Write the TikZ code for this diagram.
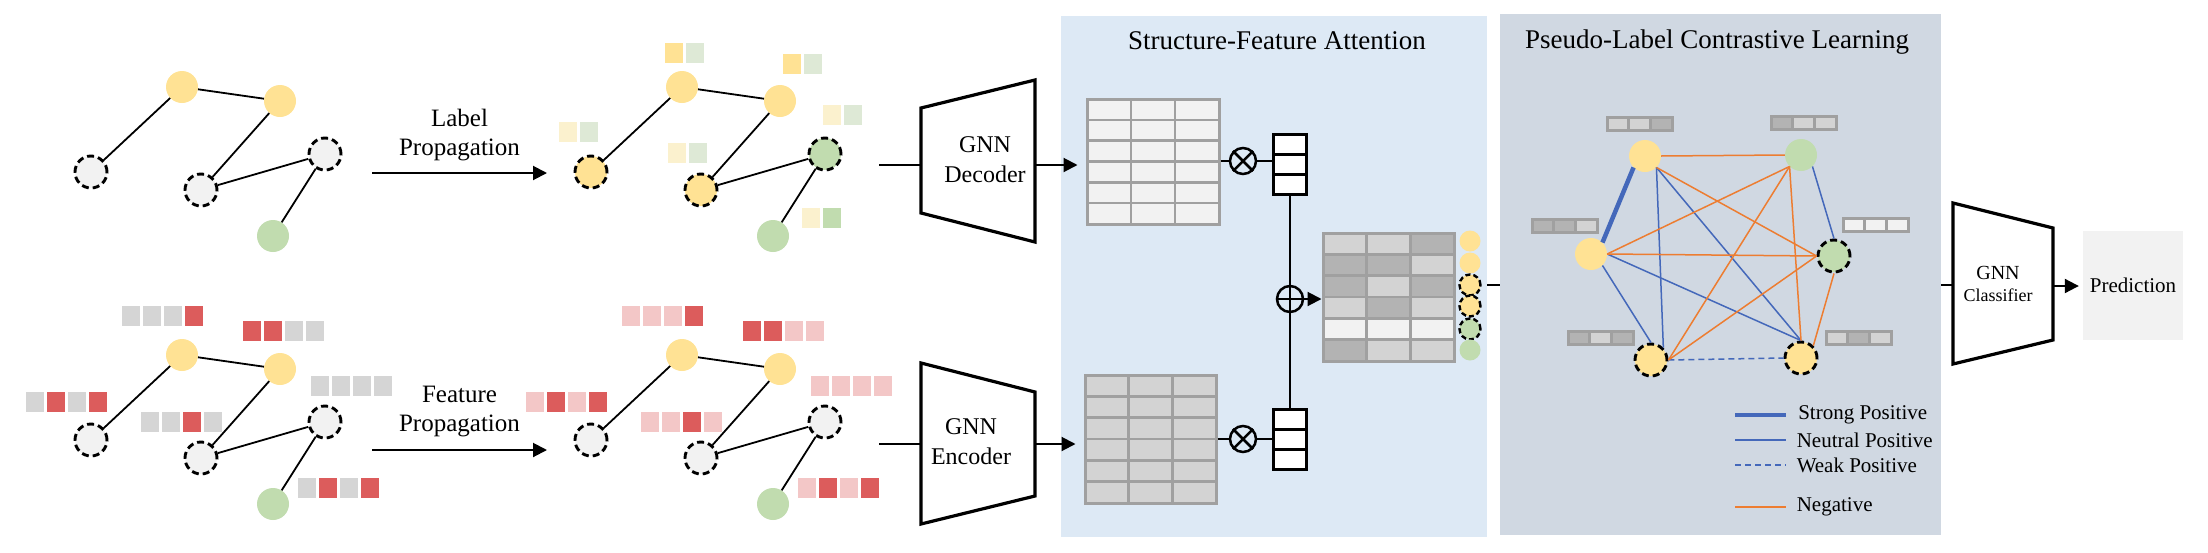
\documentclass[tikz,border=0pt]{standalone}
\usepackage{fontspec}
\setmainfont{Liberation Serif}
\usepackage{xcolor}
\usetikzlibrary{arrows.meta,calc}
\definecolor{nodeyellow}{RGB}{255,226,148}
\definecolor{nodegreen}{RGB}{193,220,175}
\definecolor{nodegray}{RGB}{242,242,242}
\definecolor{paleyellow}{RGB}{251,241,206}
\definecolor{palegreen}{RGB}{222,233,214}
\definecolor{featgray}{RGB}{213,213,213}
\definecolor{featred}{RGB}{220,92,92}
\definecolor{featpink}{RGB}{243,199,199}
\definecolor{attnblue}{RGB}{221,233,245}
\definecolor{contrgray}{RGB}{208,216,226}
\definecolor{gridgray}{RGB}{160,160,160}
\definecolor{cellwhite}{RGB}{242,242,242}
\definecolor{celllight}{RGB}{211,211,211}
\definecolor{celldark}{RGB}{179,179,179}
\definecolor{posblue}{RGB}{68,104,186}
\definecolor{negorange}{RGB}{237,125,49}
\definecolor{predgray}{RGB}{242,242,242}
\tikzset{
  gnode/.style={circle, minimum size=32pt, inner sep=0pt},
  ynode/.style={gnode, fill=nodeyellow},
  gnnode/.style={gnode, fill=nodegreen},
  unode/.style={gnode, fill=nodegray, draw=black, line width=2.9pt, dash pattern=on 7pt off 4pt},
  colnode/.style={circle, minimum size=21pt, inner sep=0pt},
  coldash/.style={colnode, draw=black, line width=2.4pt, dash pattern=on 5pt off 3pt},
  edge/.style={line width=1.8pt},
  flow/.style={-{Triangle[length=14pt,width=14pt]}, line width=2pt},
  fsq/.style={rectangle, minimum width=18pt, minimum height=20pt, inner sep=0pt},
  csq/.style={rectangle, minimum width=21.7pt, minimum height=13pt, inner sep=0pt, draw=gridgray, line width=3pt},
  trap/.style={line width=3.2pt, line join=miter},
  tbl/.style={rectangle, draw=gridgray, line width=3pt, inner sep=0pt},
  gridln/.style={draw=gridgray, line width=2.6pt},
  vecbox/.style={rectangle, draw=black, fill=white, line width=3pt, minimum width=33pt, minimum height=60pt, inner sep=0pt},
  vecln/.style={line width=3pt},
  opnode/.style={circle, draw=black, fill=attnblue, line width=2.5pt, minimum size=26pt, inner sep=0pt},
  opln/.style={line width=2.5pt},
  neutral/.style={posblue, line width=1.5pt},
  strong/.style={posblue, line width=4.5pt},
  weak/.style={posblue, line width=1.5pt, dash pattern=on 6pt off 4pt},
  negative/.style={negorange, line width=1.5pt},
  proptxt/.style={font=\fontsize{25}{29}\selectfont, align=center, inner sep=0pt},
  gnntxt/.style={font=\fontsize{24}{30}\selectfont, align=center, inner sep=0pt},
  titletxt/.style={font=\fontsize{27}{32}\selectfont, inner sep=0pt, anchor=base},
  legtxt/.style={font=\fontsize{21}{25}\selectfont, text=black, inner sep=0pt, anchor=west},
  clstxt/.style={font=\fontsize{20}{22}\selectfont, align=center, inner sep=0pt},
  predbox/.style={fill=predgray, minimum width=100pt, minimum height=109pt, inner sep=0pt, font=\fontsize{21}{25}\selectfont}
}
\pgfdeclarelayer{bg}
\pgfdeclarelayer{panels}
\pgfsetlayers{bg,panels,main}
% row of small squares: [style]{name}{x of first}{y}{step}{colours}
\newcommand{\featbar}[6][fsq]{%
  \foreach \c [count=\i] in {#6}
    \node[#1, fill=\c] (#2-\i) at ({#3+(\i-1)*#5},#4) {};%
}
% inner lines of a 3x6 table: {x0}{y0}{w}{h}
\newcommand{\cellgrid}[4]{%
  \foreach \k in {1,2} \draw[gridln] ({#1+\k*#3/3},#2) -- ({#1+\k*#3/3},{#2+#4});
  \foreach \r in {1,...,5} \draw[gridln] (#1,{#2+\r*#4/6}) -- ({#1+#3},{#2+\r*#4/6});%
}
\begin{document}
\begin{tikzpicture}[x=1pt,y=-1pt]
\useasboundingbox (0,0) rectangle (2208,552);

% panels
\begin{pgfonlayer}{panels}
\fill[attnblue] (1061,16) rectangle (1487,537);
\fill[contrgray] (1500,14) rectangle (1941,535);
\end{pgfonlayer}

% ---- input graph, labels
\node[ynode] (ltA) at (182,87) {};
\node[ynode] (ltB) at (280,101) {};
\node[unode] (ltC) at (91,172) {};
\node[unode] (ltD) at (201,190) {};
\node[unode] (ltE) at (325,154) {};
\node[gnnode] (ltF) at (273,236) {};
\draw[edge] (ltA) -- (ltB) (ltA) -- (ltC) (ltB) -- (ltD) (ltD) -- (ltE) (ltE) -- (ltF);

\coordinate (lp1) at (372,173);
\coordinate (lp2) at (547,173);
\draw[flow] (lp1) -- node[proptxt, above=11pt] (lptext) {Label\\Propagation} (lp2);

% ---- propagated labels
\node[ynode] (rtA) at (682,87) {};
\node[ynode] (rtB) at (780,101) {};
\node[unode, fill=nodeyellow] (rtC) at (591,172) {};
\node[unode, fill=nodeyellow] (rtD) at (701,190) {};
\node[unode, fill=nodegreen] (rtE) at (825,154) {};
\node[gnnode] (rtF) at (773,236) {};
\draw[edge] (rtA) -- (rtB) (rtA) -- (rtC) (rtB) -- (rtD) (rtD) -- (rtE) (rtE) -- (rtF);
\featbar{lbA}{674}{53}{21}{nodeyellow,palegreen}
\featbar{lbB}{792}{64}{21}{nodeyellow,palegreen}
\featbar{lbC}{568}{132}{21}{paleyellow,palegreen}
\featbar{lbD}{677}{153}{21}{paleyellow,palegreen}
\featbar{lbE}{832}{115}{21}{paleyellow,palegreen}
\featbar{lbF}{811}{218}{21}{paleyellow,nodegreen}

% ---- input graph, features
\node[ynode] (lbA) at (182,355) {};
\node[ynode] (lbB) at (280,369) {};
\node[unode] (lbC) at (91,440) {};
\node[unode] (lbD) at (201,458) {};
\node[unode] (lbE) at (325,422) {};
\node[gnnode] (lbF) at (273,504) {};
\draw[edge] (lbA) -- (lbB) (lbA) -- (lbC) (lbB) -- (lbD) (lbD) -- (lbE) (lbE) -- (lbF);
\featbar{fbA}{131}{316}{21}{featgray,featgray,featgray,featred}
\featbar{fbB}{252}{331}{21}{featred,featred,featgray,featgray}
\featbar{fbC}{35}{402}{21}{featgray,featred,featgray,featred}
\featbar{fbD}{150}{422}{21}{featgray,featgray,featred,featgray}
\featbar{fbE}{320}{386}{21}{featgray,featgray,featgray,featgray}
\featbar{fbF}{307}{488}{21}{featgray,featred,featgray,featred}

\coordinate (fp1) at (372,450);
\coordinate (fp2) at (547,450);
\draw[flow] (fp1) -- node[proptxt, above=12pt] (fptext) {Feature\\Propagation} (fp2);

% ---- propagated features
\node[ynode] (rbA) at (682,355) {};
\node[ynode] (rbB) at (780,369) {};
\node[unode] (rbC) at (591,440) {};
\node[unode] (rbD) at (701,458) {};
\node[unode] (rbE) at (825,422) {};
\node[gnnode] (rbF) at (773,504) {};
\draw[edge] (rbA) -- (rbB) (rbA) -- (rbC) (rbB) -- (rbD) (rbD) -- (rbE) (rbE) -- (rbF);
\featbar{pfA}{631}{316}{21}{featpink,featpink,featpink,featred}
\featbar{pfB}{752}{331}{21}{featred,featred,featpink,featpink}
\featbar{pfC}{535}{402}{21}{featpink,featred,featpink,featred}
\featbar{pfD}{650}{422}{21}{featpink,featpink,featred,featpink}
\featbar{pfE}{820}{386}{21}{featpink,featpink,featpink,featpink}
\featbar{pfF}{807}{488}{21}{featpink,featred,featpink,featred}

% ---- decoder / encoder
\draw[trap] (921,108) -- (1035,80) -- (1035,242) -- (921,213) -- cycle;
\node[gnntxt] (dec) at (985,160) {GNN\\Decoder};
\coordinate (decin) at (879,165);
\coordinate (decL) at (921,165);
\coordinate (decR) at (1035,165);
\draw[trap] (921,363) -- (1035,392) -- (1035,496) -- (921,524) -- cycle;
\node[gnntxt] (enc) at (971,442) {GNN\\Encoder};
\coordinate (encin) at (879,444);
\coordinate (encL) at (921,444);
\coordinate (encR) at (1035,444);

% ---- structure-feature attention
\node[titletxt] (attntitle) at (1277,49) {Structure-Feature Attention};
\node[tbl, fill=cellwhite, minimum width=132pt, minimum height=125pt] (tabS) at (1153,161.5) {};
\cellgrid{1087}{99}{132}{125}
\node[tbl, fill=celllight, minimum width=131pt, minimum height=128pt] (tabF) at (1150.5,439) {};
\cellgrid{1085}{375}{131}{128}
\foreach \row [count=\r] in {{celllight,celllight,celldark},{celldark,celldark,celllight},{celldark,celllight,celldark},{celllight,celldark,celllight},{cellwhite,cellwhite,cellwhite},{celldark,celllight,celllight}}
  \foreach \c [count=\k] in \row
    \fill[fill=\c] ({1323+(\k-1)*131/3},{233+(\r-1)*128/6}) rectangle ++({131/3},{128/6});
\cellgrid{1323}{233}{131}{128}
\node[tbl, minimum width=131pt, minimum height=128pt] (tabR) at (1388.5,297) {};

\node[vecbox] (vec1) at (1290,164) {};
\draw[vecln] (1273.5,154) -- (1306.5,154) (1273.5,174) -- (1306.5,174);
\node[vecbox] (vec2) at (1290,439) {};
\draw[vecln] (1273.5,429) -- (1306.5,429) (1273.5,449) -- (1306.5,449);
\node[opnode] (ot1) at (1243,161) {};
\draw[opln] (ot1.north west) -- (ot1.south east) (ot1.north east) -- (ot1.south west);
\node[opnode] (ot2) at (1243,439) {};
\draw[opln] (ot2.north west) -- (ot2.south east) (ot2.north east) -- (ot2.south west);
\node[opnode] (op) at (1290,299) {};

\draw[edge] (decin) -- (decL);
\draw[flow, shorten >=8pt] (decR) -- (decR -| tabS.west);
\draw[edge] (encin) -- (encL);
\draw[flow, shorten >=8pt] (encR) -- (encR -| tabF.west);
\draw[edge] (tabS.east |- ot1) -- (ot1) -- (ot1 -| vec1.west);
\draw[edge] (tabF.east |- ot2) -- (ot2) -- (ot2 -| vec2.west);
\draw[edge] (vec1.south) -- (vec2.north);
\draw[opln] (op.north) -- (op.south) (op.west) -- (op.east);
\draw[flow] (op.east) -- (op -| tabR.west);

\node[colnode, fill=nodeyellow] (col1) at (1470,241) {};
\node[colnode, fill=nodeyellow] (col2) at (1470,263) {};
\node[coldash, fill=nodeyellow] (col3) at (1470,285) {};
\node[coldash, fill=nodeyellow] (col4) at (1470,306) {};
\node[coldash, fill=nodegreen] (col5) at (1470,329) {};
\node[colnode, fill=nodegreen] (col6) at (1470,350) {};

% ---- pseudo-label contrastive learning
\node[titletxt] (cltitle) at (1717,48) {Pseudo-Label Contrastive Learning};
\node[ynode] (c1) at (1645,156) {};
\node[gnnode] (c2) at (1801,155) {};
\node[ynode] (c3) at (1591,254) {};
\node[unode, fill=nodegreen] (c4) at (1834,256) {};
\node[unode, fill=nodeyellow] (c5) at (1651,360) {};
\node[unode, fill=nodeyellow] (c6) at (1801,358) {};
\draw[strong] (c1.south west) -- (c3.north east);
\draw[neutral] (c1.south east) -- (c5.north east);
\draw[neutral] (c1.south east) -- (c6.north);
\draw[neutral] (c2.south east) -- (c4.north);
\draw[neutral] (c3.south east) -- (c5.north);
\draw[neutral] (c3.east) -- (c6.north);
\draw[weak] (c5.east) -- (c6.west);
\draw[negative] (c1.east) -- (c2.west);
\draw[negative] (c1.south east) -- (c4.west);
\draw[negative] (c2.south west) -- (c3.east);
\draw[negative] (c2.south west) -- (c5.east);
\draw[negative] (c2.south west) -- (c6.north);
\draw[negative] (c3.east) -- (c4.west);
\draw[negative] (c4.west) -- (c5.east);
\draw[negative] (c4.south) -- (c6.north east);
\featbar[csq]{cb1}{1618}{124}{21.7}{celllight,celllight,celldark}
\featbar[csq]{cb2}{1782}{123}{21.7}{celldark,celllight,celllight}
\featbar[csq]{cb3}{1543}{226}{21.7}{celldark,celldark,celllight}
\featbar[csq]{cb4}{1854}{225}{21.7}{cellwhite,cellwhite,cellwhite}
\featbar[csq]{cb5}{1579}{338}{21.7}{celldark,celllight,celldark}
\featbar[csq]{cb6}{1837}{338}{21.7}{celllight,celldark,celllight}

% legend
\coordinate (lg1) at (1735,415);
\coordinate (lg2) at (1735,440);
\coordinate (lg3) at (1735,465);
\coordinate (lg4) at (1735,507);
\draw[strong] (lg1) -- ++(51,0) node[legtxt, right=10pt] (lgs) {Strong Positive};
\draw[neutral] (lg2) -- ++(51,0) node[legtxt, right=10pt] (lgn) {Neutral Positive};
\draw[weak] (lg3) -- ++(51,0) node[legtxt, right=10pt] (lgw) {Weak Positive};
\draw[negative] (lg4) -- ++(51,0) node[legtxt, right=10pt] (lgg) {Negative};

% ---- classifier, prediction
\draw[trap] (1953,203) -- (2053,228) -- (2053,340) -- (1953,364) -- cycle;
\node[clstxt] (cls) at (1998,284) {GNN\\{\fontsize{18}{22}\selectfont Classifier}};
\coordinate (clsL) at (1953,285);
\coordinate (clsR) at (2053,286);
\node[predbox] (pred) at (2133,285.5) {Prediction};
\draw[flow, shorten >=4pt] (clsR) -- (clsR -| pred.west);
\begin{pgfonlayer}{bg}
\draw[edge] (col3) -- (col3 -| clsL);
\end{pgfonlayer}
\end{tikzpicture}
\end{document}
